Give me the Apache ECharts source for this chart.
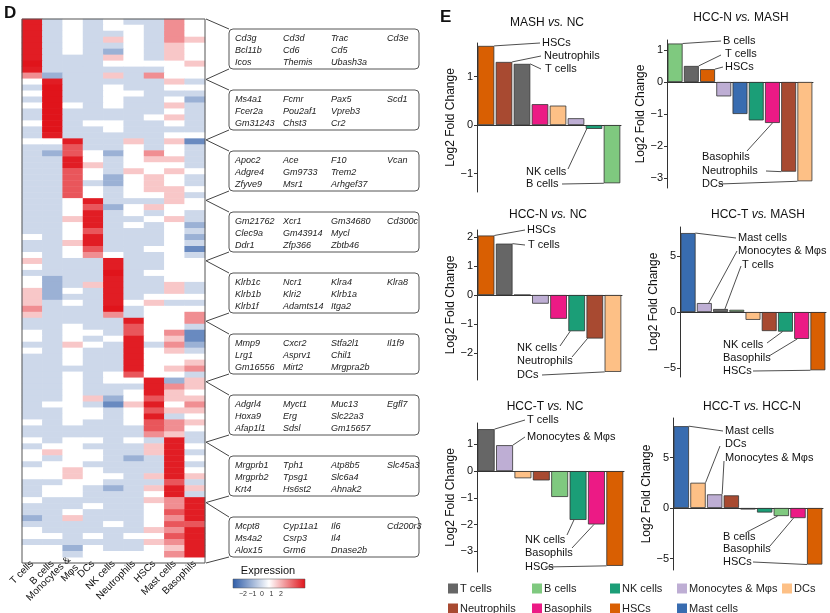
<!DOCTYPE html>
<html>
<head>
<meta charset="utf-8">
<title>ECharts</title>
<script src="https://cdn.jsdelivr.net/npm/echarts@6/dist/echarts.min.js"></script>
</head>
<body style="margin:0;background:#fff">
<div id="main" style="width:830px;height:613px;"></div>
<script type="text/javascript">
var FONT = 'Liberation Sans, Arial, sans-serif';

// heatmap: columns (cell types) and 90 marker genes, 9 groups of 10
var heatLabels = ['T cells', 'B cells', 'Monocytes &\nMφs', 'DCs', 'NK cells', 'Neutrophils', 'HSCs', 'Mast cells', 'Basophils'];
// each char is one cell, level d -> expression (d - 4) * 0.6
var heatRows = [
    '834343364', '834344364', '834334364', '834354365', '834334354', '834324354', '833354354', '933344445', '833333344', '623353644',
    '483333353', '393343344', '493344333', '393343342', '494343353', '393333343', '393333453', '493443343', '393343333', '383333344',
    '448335351', '337334343', '327424643', '338434553', '338534443', '337435454', '337424543', '337324543', '337434554', '337434453',
    '334833354', '334724544', '334834343', '335833453', '334834342', '334733343', '434833342', '335833343', '334733441', '434643343',
    '533383344', '433383344', '333393444', '423383344', '423583353', '524383353', '523383444', '534384533', '633393444', '533363446',
    '333338446', '334337443', '434437461', '434348451', '335438362', '434338453', '334338444', '334338445', '333338456', '334347443',
    '334344825', '334333865', '334334854', '334524755', '344315846', '334434755', '334434834', '434334765', '333333764', '333333653',
    '434434383', '344333584', '454433583', '434432384', '344333383', '445433384', '445443585', '334433373', '344323585', '344333483',
    '433333568', '333433468', '334333478', '235333468', '333343477', '433333568', '443434478', '333333568', '442433458', '443444468'
];
var geneGroups = [
    [['Cd3g', 'Cd3d', 'Trac', 'Cd3e'], ['Bcl11b', 'Cd6', 'Cd5'], ['Icos', 'Themis', 'Ubash3a']],
    [['Ms4a1', 'Fcmr', 'Pax5', 'Scd1'], ['Fcer2a', 'Pou2af1', 'Vpreb3'], ['Gm31243', 'Chst3', 'Cr2']],
    [['Apoc2', 'Ace', 'F10', 'Vcan'], ['Adgre4', 'Gm9733', 'Trem2'], ['Zfyve9', 'Msr1', 'Arhgef37']],
    [['Gm21762', 'Xcr1', 'Gm34680', 'Cd300c'], ['Clec9a', 'Gm43914', 'Mycl'], ['Ddr1', 'Zfp366', 'Zbtb46']],
    [['Klrb1c', 'Ncr1', 'Klra4', 'Klra8'], ['Klrb1b', 'Klri2', 'Klrb1a'], ['Klrb1f', 'Adamts14', 'Itga2']],
    [['Mmp9', 'Cxcr2', 'Stfa2l1', 'Il1f9'], ['Lrg1', 'Asprv1', 'Chil1'], ['Gm16556', 'Mirt2', 'Mrgpra2b']],
    [['Adgrl4', 'Myct1', 'Muc13', 'Egfl7'], ['Hoxa9', 'Erg', 'Slc22a3'], ['Afap1l1', 'Sdsl', 'Gm15657']],
    [['Mrgprb1', 'Tph1', 'Atp8b5', 'Slc45a3'], ['Mrgprb2', 'Tpsg1', 'Slc6a4'], ['Krt4', 'Hs6st2', 'Ahnak2']],
    [['Mcpt8', 'Cyp11a1', 'Il6', 'Cd200r3'], ['Ms4a2', 'Csrp3', 'Il4'], ['Alox15', 'Grm6', 'Dnase2b']]
];
var expressionTicks = [-2, -1, 0, 1, 2];

// log2 fold change per comparison, in plotted order
var cellTypes = ['T cells', 'B cells', 'NK cells', 'Monocytes & Mφs', 'DCs', 'Neutrophils', 'Basophils', 'HSCs', 'Mast cells'];
var cellColors = {
    'T cells': '#666666', 'B cells': '#7fc97f', 'NK cells': '#1b9e77', 'Monocytes & Mφs': '#beaed4', 'DCs': '#fdc086',
    'Neutrophils': '#a84a31', 'Basophils': '#ec1a85', 'HSCs': '#d95f02', 'Mast cells': '#386cb0'
};
var mashVsNc = [['HSCs', 1.63], ['Neutrophils', 1.3], ['T cells', 1.26], ['Basophils', 0.43], ['DCs', 0.4], ['Monocytes & Mφs', 0.14], ['NK cells', -0.08], ['B cells', -1.2]];
var hccnVsMash = [['B cells', 1.2], ['T cells', 0.5], ['HSCs', 0.4], ['Monocytes & Mφs', -0.45], ['Mast cells', -1.0], ['NK cells', -1.2], ['Basophils', -1.28], ['Neutrophils', -2.8], ['DCs', -3.1]];
var hccnVsNc = [['HSCs', 2.05], ['T cells', 1.77], ['B cells', 0], ['Monocytes & Mφs', -0.3], ['Basophils', -0.82], ['NK cells', -1.25], ['Neutrophils', -1.5], ['DCs', -2.65]];
var hcctVsMash = [['Mast cells', 7.05], ['Monocytes & Mφs', 0.8], ['T cells', 0.27], ['B cells', 0.2], ['DCs', -0.7], ['Neutrophils', -1.7], ['NK cells', -1.75], ['Basophils', -2.4], ['HSCs', -5.2]];
var hcctVsNc = [['T cells', 1.57], ['Monocytes & Mφs', 0.97], ['DCs', -0.27], ['Neutrophils', -0.35], ['B cells', -0.97], ['NK cells', -1.83], ['Basophils', -2.0], ['HSCs', -3.55]];
var hcctVsHccn = [['Mast cells', 8.1], ['DCs', 2.5], ['Monocytes & Mφs', 1.35], ['Neutrophils', 1.25], ['T cells', -0.15], ['NK cells', -0.45], ['B cells', -0.8], ['Basophils', -1.0], ['HSCs', -5.6]];

// panel layout: grid box, axis range, ticks, title, labelled bars
// label: [name, textX, textY, lineX, lineY, bar side (-1 left .. 1 right)]
var panels = [
    {data: mashVsNc, title: ['MASH', 'NC'], tx: 547, ty: 23, left: 477, top: 43, width: 144, height: 149, min: -1.38, max: 1.69, ticks: [-1, 0, 1],
     labels: [['HSCs', 542, 43, 540, 43, 1], ['Neutrophils', 544, 56, 541, 56, 1], ['T cells', 545, 69, 541, 69, 1], ['NK cells', 526, 172, 568, 169, -0.9], ['B cells', 526, 184, 562, 184, -1]]},
    {data: hccnVsMash, title: ['HCC-N', 'MASH'], tx: 741, ty: 18, left: 667, top: 40, width: 146, height: 148, min: -3.31, max: 1.31, ticks: [-3, -2, -1, 0, 1],
     labels: [['B cells', 723, 41, 721, 41, 1], ['T cells', 725, 54, 721, 55, 1], ['HSCs', 725, 67, 723, 67, 1], ['Basophils', 702, 157, 747, 151, 0], ['Neutrophils', 702, 171, 766, 171, -1], ['DCs', 702, 184, 719, 184, -1]]},
    {data: hccnVsNc, title: ['HCC-N', 'NC'], tx: 548, ty: 215, left: 477, top: 230, width: 145, height: 150, min: -2.93, max: 2.24, ticks: [-2, -1, 0, 1, 2],
     labels: [['HSCs', 527, 230, 525, 230, 1], ['T cells', 528, 245, 525, 245, 1], ['NK cells', 517, 348, 560, 346, -0.8], ['Neutrophils', 517, 361, 572, 357, -0.9], ['DCs', 517, 375, 542, 375, -1]]},
    {data: hcctVsMash, title: ['HCC-T', 'MASH'], tx: 758, ty: 215, left: 680, top: 227, width: 146, height: 150, min: -5.8, max: 7.59, ticks: [-5, 0, 5],
     labels: [['Mast cells', 738, 238, 736, 238, 1], ['Monocytes & Mφs', 738, 251, 737, 251, 0.6], ['T cells', 742, 265, 741, 266, 0.6], ['NK cells', 723, 345, 767, 343, -0.4], ['Basophils', 723, 358, 769, 356, -0.6], ['HSCs', 723, 371, 753, 371, -1]]},
    {data: hcctVsNc, title: ['HCC-T', 'NC'], tx: 545, ty: 407, left: 477, top: 423, width: 147, height: 149, min: -3.78, max: 1.8, ticks: [-3, -2, -1, 0, 1],
     labels: [['T cells', 527, 420, 525, 420, 1], ['Monocytes & Mφs', 527, 437, 525, 437, 1], ['NK cells', 525, 540, 567, 535, -0.5], ['Basophils', 525, 553, 572, 548, -0.3], ['HSCs', 525, 567, 545, 567, -1]]},
    {data: hcctVsHccn, title: ['HCC-T', 'HCC-N'], tx: 752, ty: 407, left: 673, top: 418, width: 150, height: 152, min: -6.14, max: 8.91, ticks: [-5, 0, 5],
     labels: [['Mast cells', 725, 431, 723, 431, 1], ['DCs', 725, 444, 720, 446, 1], ['Monocytes & Mφs', 725, 458, 724, 461, 1], ['B cells', 723, 537, 747, 532, -0.5], ['Basophils', 723, 549, 770, 546, -0.6], ['HSCs', 723, 562, 753, 562, -1]]}
];
var legendPos = [
    ['T cells', 448, 583], ['B cells', 532, 583], ['NK cells', 610, 583], ['Monocytes & Mφs', 677, 583], ['DCs', 782, 583],
    ['Neutrophils', 448, 603], ['Basophils', 532, 603], ['HSCs', 610, 603], ['Mast cells', 677, 603]
];

var hm = {left: 22, top: 19, width: 183, height: 544};
var heatData = [];
heatRows.forEach(function (row, r) {
    for (var c = 0; c < 9; c++) heatData.push([c, r, (+row[c] - 4) * 0.6]);
});

var grids = [{left: hm.left, top: hm.top, width: hm.width, height: hm.height}];
var xAxes = [{
    type: 'category', gridIndex: 0, data: heatLabels,
    axisLine: {show: false}, axisTick: {show: false},
    axisLabel: {rotate: 45, interval: 0, margin: 5, fontSize: 10, lineHeight: 11, color: '#111', fontFamily: FONT}
}];
var yAxes = [{type: 'category', gridIndex: 0, inverse: true, data: heatRows.map(function (r, i) { return i; }), show: false}];
var series = [{type: 'heatmap', xAxisIndex: 0, yAxisIndex: 0, data: heatData, progressive: 0}];

panels.forEach(function (p, i) {
    var names = p.data.map(function (d) { return d[0]; });
    grids.push({left: p.left, top: p.top, width: p.width, height: p.height});
    xAxes.push({
        type: 'category', gridIndex: i + 1, data: names,
        axisLine: {onZero: true, lineStyle: {color: '#333', width: 1}},
        axisTick: {show: false}, axisLabel: {show: false}
    });
    yAxes.push({
        type: 'value', gridIndex: i + 1, min: p.min, max: p.max,
        name: 'Log2 Fold Change', nameLocation: 'middle', nameGap: 18,
        nameTextStyle: {fontSize: 12, color: '#111', fontFamily: FONT},
        axisLine: {show: true, lineStyle: {color: '#333', width: 1}},
        axisTick: {show: true, length: 3, customValues: p.ticks, lineStyle: {color: '#333'}},
        axisLabel: {customValues: p.ticks, fontSize: 11, margin: 4, color: '#111', fontFamily: FONT,
            formatter: function (v) { return String(v).replace('-', '\u2212'); }},
        splitLine: {show: false}
    });
    cellTypes.forEach(function (c) {
        if (names.indexOf(c) < 0) return;
        series.push({
            type: 'bar', name: c, xAxisIndex: i + 1, yAxisIndex: i + 1, stack: 'p' + i,
            barCategoryGap: '8%',
            itemStyle: {color: cellColors[c], borderColor: '#333', borderWidth: 0.8},
            data: p.data.map(function (d) { return d[0] === c ? d[1] : '-'; })
        });
    });
});

var legends = legendPos.map(function (l) {
    return {
        data: [l[0]], left: l[1], top: l[2], icon: 'rect', itemWidth: 10, itemHeight: 10, itemGap: 0, padding: 0,
        selectedMode: false, itemStyle: {borderWidth: 0},
        textStyle: {fontSize: 11, color: '#222', fontFamily: FONT, padding: [0, 0, 0, -3]}
    };
});

var chart = echarts.init(document.getElementById('main'));
chart.setOption({
    animation: false,
    textStyle: {fontFamily: FONT},
    grid: grids, xAxis: xAxes, yAxis: yAxes, legend: legends,
    visualMap: {
        show: false, type: 'continuous', min: -2.5, max: 2.5, dimension: 2, seriesIndex: 0,
        inRange: {color: ['#2f5da8', '#ffffff', '#e0141b']}
    },
    series: series
});

// static drawing: letters, heat border, brackets, gene boxes, colour bar, titles
function txt(x, y, s, size, extra) {
    var st = {text: s, fontSize: size, fill: '#111', fontFamily: FONT, verticalAlign: 'middle'};
    for (var k in extra) st[k] = extra[k];
    return {type: 'text', x: x, y: y, z: 20, style: st};
}
var g = [];
g.push(txt(4, 13, 'D', 17, {fontWeight: 'bold'}));
g.push(txt(440, 17, 'E', 17, {fontWeight: 'bold'}));
g.push({type: 'rect', z: 20, shape: {x: hm.left, y: hm.top, width: hm.width, height: hm.height}, style: {fill: null, stroke: '#555', lineWidth: 1}});

var boxX = 229, boxW = 190, boxH = 40;
var bx = hm.left + hm.width + 1;
var geneCols = [235, 283, 331, 387];
geneGroups.forEach(function (grp, k) {
    var top = 29 + 61 * k;
    var yUp = hm.top + hm.height * k / 9, yDn = hm.top + hm.height * (k + 1) / 9;
    g.push({type: 'polyline', z: 20, shape: {points: [[boxX, top], [bx, yUp]]}, style: {stroke: '#444', lineWidth: 1, fill: null}});
    g.push({type: 'polyline', z: 20, shape: {points: [[boxX, top + boxH], [bx, yDn]]}, style: {stroke: '#444', lineWidth: 1, fill: null}});
    g.push({type: 'rect', z: 20, shape: {x: boxX, y: top, width: boxW, height: boxH, r: 4}, style: {fill: null, stroke: '#555', lineWidth: 1}});
    grp.forEach(function (row, ri) {
        row.forEach(function (gene, ci) {
            g.push(txt(geneCols[ci], top + 9 + ri * 12, gene, 9, {fontStyle: 'italic', fill: '#222'}));
        });
    });
});

g.push(txt(268, 571, 'Expression', 11, {align: 'center'}));
g.push({type: 'rect', z: 20, shape: {x: 233, y: 579, width: 72, height: 9},
    style: {stroke: '#555', lineWidth: 0.5, fill: new echarts.graphic.LinearGradient(0, 0, 1, 0, [
        {offset: 0, color: '#2f5da8'}, {offset: 0.5, color: '#ffffff'}, {offset: 1, color: '#e0141b'}])}});
expressionTicks.forEach(function (t, i) {
    g.push(txt(243 + i * 9.5, 594, String(t).replace('-', '\u2212'), 7, {align: 'center', fill: '#333'}));
});

panels.forEach(function (p, i) {
    g.push(txt(p.tx, p.ty, p.title[0] + ' {i|vs.} ' + p.title[1], 12,
        {align: 'center', rich: {i: {fontStyle: 'italic', fontSize: 12, fill: '#111', fontFamily: FONT}}}));
    var names = p.data.map(function (d) { return d[0]; });
    var slot = p.width / names.length;
    p.labels.forEach(function (l) {
        var idx = names.indexOf(l[0]);
        var pt = chart.convertToPixel({xAxisIndex: i + 1, yAxisIndex: i + 1}, [idx, p.data[idx][1]]);
        var ex = pt[0] + l[5] * slot * 0.45;
        g.push({type: 'line', z: 20, shape: {x1: l[3], y1: l[4], x2: ex, y2: pt[1]}, style: {stroke: '#222', lineWidth: 0.8}});
        g.push(txt(l[1], l[2], l[0], 11, {}));
    });
});

chart.setOption({graphic: g});
</script>
</body>
</html>
